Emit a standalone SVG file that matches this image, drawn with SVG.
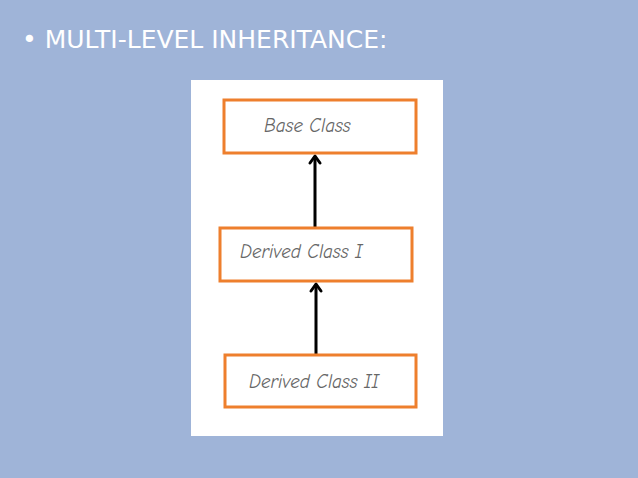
<svg xmlns="http://www.w3.org/2000/svg" width="638" height="478" viewBox="0 0 638 478">
<defs>
<style>
.box{fill:#fff;stroke:#ee7f2d;stroke-width:3}
.lbl{font-family:"Comic Neue","Liberation Sans",sans-serif;font-style:italic;font-size:19px;fill:#666}
.edge{stroke:#000;stroke-width:3;fill:none;stroke-linecap:round;stroke-linejoin:round}
</style>
</defs>
<rect width="638" height="478" fill="#9fb4d8"/>
<text x="22" y="48" font-family="'DejaVu Sans',sans-serif" font-size="25" fill="#fff">• MULTI-LEVEL INHERITANCE:</text>
<rect x="191" y="80" width="252" height="356" fill="#fff"/>
<g id="connectors">
<line class="edge" x1="315" y1="228" x2="315" y2="157"/>
<path class="edge" d="M310,163 L315,156 L320,163"/>
<line class="edge" x1="316" y1="354" x2="316" y2="285"/>
<path class="edge" d="M311,291 L316,284 L321,291"/>
</g>
<g id="base"><rect class="box" x="224" y="100" width="192" height="53"/><text class="lbl" x="264" y="132">Base Class</text></g>
<g id="derived1"><rect class="box" x="220" y="228" width="192" height="53"/><text class="lbl" x="240" y="258">Derived Class I</text></g>
<g id="derived2"><rect class="box" x="225" y="355" width="191" height="52"/><text class="lbl" x="249" y="388">Derived Class II</text></g>
</svg>
